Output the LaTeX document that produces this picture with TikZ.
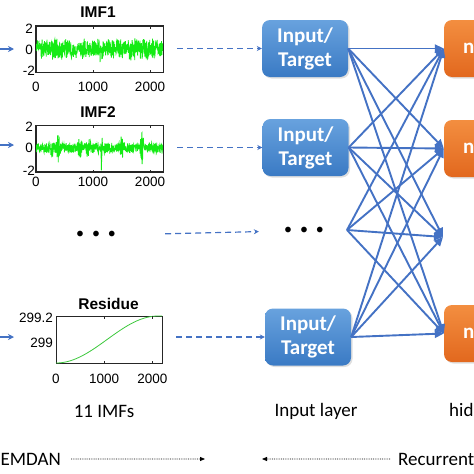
\documentclass[tikz,border=0pt]{standalone}
\usepackage{fontspec}
\setmainfont{Carlito}
\newfontfamily\plotfont{Liberation Sans}
\usetikzlibrary{arrows.meta,shadows}

\definecolor{linkblue}{RGB}{68,114,196}
\definecolor{inboxtop}{RGB}{104,162,222}
\definecolor{inboxbot}{RGB}{58,122,196}
\definecolor{hidtop}{RGB}{243,142,64}
\definecolor{hidbot}{RGB}{226,104,30}
\definecolor{imfgreen}{RGB}{20,235,20}
\definecolor{resgreen}{RGB}{60,200,60}

\tikzset{
  plotbox/.style={draw=black!85, line width=0.8pt, inner sep=0pt,
    minimum width=127pt, minimum height=46pt},
  plottitle/.style={font=\plotfont\bfseries\fontsize{15.5}{16}\selectfont, inner sep=0pt},
  ticklabel/.style={font=\plotfont\fontsize{13.5}{14}\selectfont, inner sep=0pt},
  tick/.style={black!85, line width=0.6pt},
  inbox/.style={rounded corners=8pt, top color=inboxtop, bottom color=inboxbot,
    minimum width=86pt, minimum height=57pt, align=center, text=white,
    font=\bfseries\fontsize{21}{24}\selectfont,
    drop shadow={opacity=0.25, shadow xshift=1.5pt, shadow yshift=-1.5pt}},
  hidbox/.style={rounded corners=8pt, top color=hidtop, bottom color=hidbot,
    minimum height=57pt, text width=60pt, inner xsep=19pt, align=left, text=white,
    font=\bfseries\fontsize{21}{24}\selectfont,
    drop shadow={opacity=0.25, shadow xshift=1.5pt, shadow yshift=-1.5pt}},
  dotrow/.style={font=\fontsize{16}{18}\selectfont, inner sep=0pt},
  feed/.style={linkblue, line width=1.3pt, -{Stealth[length=6pt,width=6pt]}},
  todata/.style={linkblue, dash pattern=on 6pt off 4pt, line width=1.2pt,
    -{Stealth[length=5pt,width=5pt]}},
  link/.style={linkblue, line width=1.9pt, -{Triangle[length=9pt,width=8pt]}},
  flow/.style={densely dotted, line width=0.8pt, -{Triangle[length=5pt,width=4pt]}},
  caption/.style={font=\fontsize{19}{22}\selectfont, inner sep=0pt},
  declare function={bump(\xx,\cc,\ww)=exp(-(min(abs(\xx-\cc),3*\ww)/\ww)*(min(abs(\xx-\cc),3*\ww)/\ww));}
}

\begin{document}
\begin{tikzpicture}[x=1pt, y=-1pt]
  \useasboundingbox (0,0) rectangle (474,474);
  \clip (0,0) rectangle (474,474);
  \pgfmathsetseed{11}

  % IMF plots
  \node[plottitle] (t1) at (98,12.5) {IMF1};
  \node[plotbox] (imf1) at (99.5,49) {};
  \begin{scope}
    \clip (imf1.south west) rectangle (imf1.north east);
    \draw[imfgreen, line width=0.8pt] plot[domain=0:2230, samples=600]
      ({36+0.057*\x}, {49-10.5*(rand+0.4*rand)*(0.75+0.15*bump(\x,380,150)+0.1*bump(\x,1750,200)+0.5*bump(\x,1120,15))});
  \end{scope}
  \draw[black!85, line width=0.8pt] (imf1.south west) rectangle (imf1.north east);
  \foreach \v in {1000,2000} {
    \draw[tick] ({36+0.057*\v},72) -- ++(0,-2.5);
    \draw[tick] ({36+0.057*\v},26) -- ++(0,2.5);
  }
  \node[ticklabel, anchor=east] at (33,29) {2};
  \node[ticklabel, anchor=east] at (33,50) {0};
  \node[ticklabel, anchor=east] at (35,71) {-2};
  \foreach \v in {0,1000,2000}
    \node[ticklabel, anchor=base] at ({36+0.057*\v},91) {\v};

  \node[plottitle] (t2) at (98,112.5) {IMF2};
  \node[plotbox] (imf2) at (99.5,148.5) {};
  \begin{scope}
    \clip (imf2.south west) rectangle (imf2.north east);
    \draw[imfgreen, line width=0.8pt] plot[domain=0:2230, samples=600]
      ({36+0.057*\x}, {148-10.7*(rand+0.4*rand)*(0.4+0.6*bump(\x,280,30)+1.1*bump(\x,390,30)+0.55*bump(\x,770,30)+0.5*bump(\x,910,30)+1.7*bump(\x,1150,10)+0.7*bump(\x,1500,25)+1.2*bump(\x,1860,25))});
  \end{scope}
  \draw[black!85, line width=0.8pt] (imf2.south west) rectangle (imf2.north east);
  \foreach \v in {1000,2000} {
    \draw[tick] ({36+0.057*\v},172) -- ++(0,-2.5);
    \draw[tick] ({36+0.057*\v},125) -- ++(0,2.5);
  }
  \node[ticklabel, anchor=east] at (33,127) {2};
  \node[ticklabel, anchor=east] at (33,148) {0};
  \node[ticklabel, anchor=east] at (35,171) {-2};
  \foreach \v in {0,1000,2000}
    \node[ticklabel, anchor=base] at ({36+0.057*\v},186) {\v};

  \node[dotrow] (dots) at (96,235) {•\hspace{8pt}•\hspace{8pt}•};

  \node[plottitle] (t3) at (108.5,303.5) {Residue};
  \node[plotbox, minimum width=106pt, minimum height=47pt] (res) at (109,339.5) {};
  \draw[resgreen, line width=0.8pt] plot[domain=0:2200, samples=80]
    ({56+0.04818*\x}, {363-47*(1-cos(180*(min(\x,2120)/2120)))/2});
  \foreach \v in {1000,2000} {
    \draw[tick] ({56+0.04818*\v},363) -- ++(0,-2.5);
    \draw[tick] ({56+0.04818*\v},316) -- ++(0,2.5);
  }
  \node[ticklabel, anchor=east] at (53,318) {299.2};
  \node[ticklabel, anchor=east] at (53,343) {299};
  \foreach \v in {0,1000,2000}
    \node[ticklabel, anchor=base] at ({56+0.04818*\v},383) {\v};
  \node[caption, anchor=base] (imfs) at (104,417) {11 IMFs};

  % signals coming in
  \coordinate (s1) at (-6,49);   \coordinate (e1) at (14,49);
  \coordinate (s2) at (-6,145);  \coordinate (e2) at (14,145);
  \coordinate (s3) at (-6,337);  \coordinate (e3) at (14,337);
  \draw[feed] (s1) -- (e1);
  \draw[feed] (s2) -- (e2);
  \draw[feed] (s3) -- (e3);

  % input layer
  \node[inbox] (in1) at (305,48.5)  {Input/\\Target};
  \node[inbox] (in2) at (305.5,147.5) {Input/\\Target};
  \node[dotrow] (indots) at (304,231) {•\hspace{8pt}•\hspace{8pt}•};
  \node[inbox] (in3) at (308,337)   {Input/\\Target};
  \coordinate (idots) at (347,230);
  \node[caption, anchor=base] (inlayer) at (316,416) {Input layer};

  \draw[todata, shorten <=14pt] (in1.west -| imf1.east) -- (in1.west);
  \draw[todata, shorten <=14pt] (in2.west -| imf2.east) -- (in2.west);
  \draw[todata, shorten <=49pt, shorten >=25pt] (dots.east) -- (indots.west);
  \draw[todata, shorten <=14pt] (in3.west -| res.east) -- (in3.west);

  % hidden layer
  \node[hidbox] (h1) at (493,48.5)  {n};
  \node[hidbox] (h2) at (493,148.5) {n};
  \coordinate (hdots) at (443,237);
  \node[hidbox] (h3) at (493,333.5) {n};
  \node[caption, anchor=base west] (hidlayer) at (449,416) {hid};

  \foreach \s in {in1.east,in2.east,idots,in3.east}
    \foreach \t in {h1.west,h2.west,hdots,h3.west}
      \draw[link] (\s) -- (\t);

  % bottom
  \node[caption, anchor=base west] (emdan) at (0.5,465) {EMDAN};
  \coordinate (m1) at (205,459);
  \draw[flow, shorten <=10pt] (emdan.east) -- (m1);
  \node[caption, anchor=base west] (rnn) at (398,465) {Recurrent};
  \coordinate (m2) at (262,459);
  \draw[flow, shorten <=8pt] (rnn.west) -- (m2);
\end{tikzpicture}
\end{document}
